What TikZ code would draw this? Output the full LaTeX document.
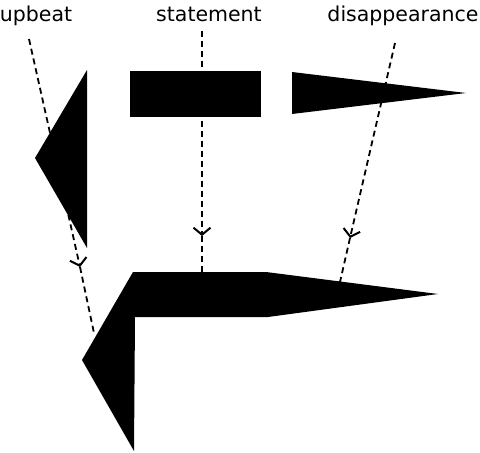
\documentclass[tikz,border=0pt]{standalone}
\usepackage{fontspec}
\setmainfont{DejaVu Sans}
\usetikzlibrary{arrows.meta}

\begin{document}
\begin{tikzpicture}[x=1pt, y=-1pt,
  lbl/.style={inner sep=0pt, anchor=base, font=\fontsize{20.5}{24}\selectfont},
  guide/.style={line width=1.8pt, dash pattern=on 6pt off 4pt},
  barb/.style={-{Straight Barb[length=7pt, width=17pt, line width=2pt]}}]
\useasboundingbox (0,0) rectangle (480,453);
% Labels
\node[lbl] (upbeat) at (36,21) {upbeat};
\node[lbl] (statement) at (209,21) {statement};
\node[lbl] (disappear) at (403,21) {disappearance};
% Ends of the guides
\coordinate (upStart) at (29,39);
\coordinate (upTip) at (80,267);
\coordinate (upEnd) at (94,333);
\coordinate (stStart) at (202,31);
\coordinate (stTip) at (202,236);
\coordinate (stEnd) at (202,272);
\coordinate (diStart) at (395,43);
\coordinate (diTip) at (350,238);
\coordinate (diEnd) at (340,282);
% Guides
\draw[guide, barb] (upStart) -- (upTip);
\draw[guide] (upTip) -- (upEnd);
\draw[guide, barb] (stStart) -- (stTip);
\draw[guide] (stTip) -- (stEnd);
\draw[guide, barb] (diStart) -- (diTip);
\draw[guide] (diTip) -- (diEnd);
% Upbeat triangle
\fill (87,70) -- (87,248) -- (35,158) -- cycle;
% Statement bar
\fill (130,71) rectangle (261,117);
% Disappearance wedge
\fill (292,72) -- (466,93) -- (292,114) -- cycle;
% Combined shape
\fill (133,272) -- (266,272) -- (438,294) -- (268,317) -- (135,317)
  -- (134,451) -- (82,360) -- cycle;
\end{tikzpicture}
\end{document}
